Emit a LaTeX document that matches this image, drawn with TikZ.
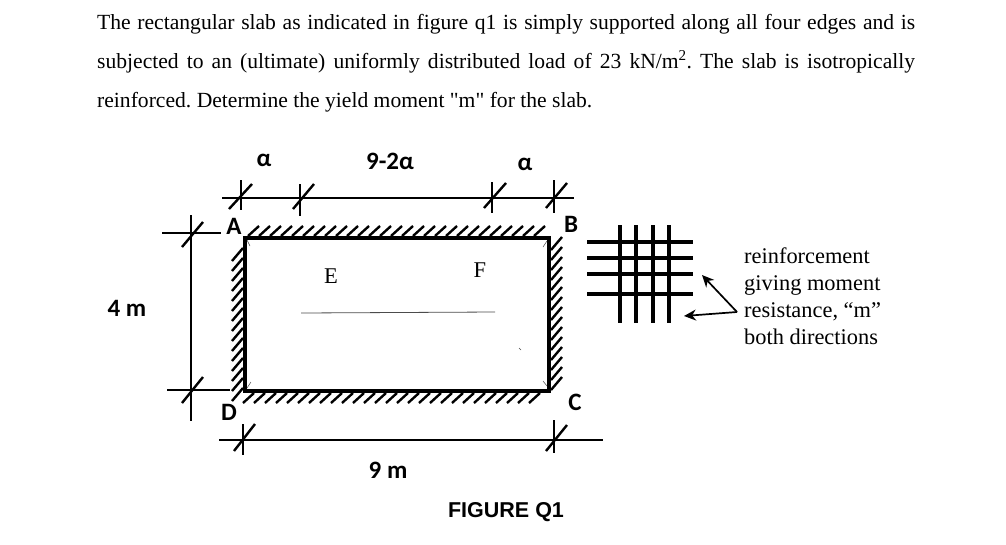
\documentclass[tikz,border=0pt]{standalone}
\usepackage{fontspec}
\setmainfont{Liberation Serif}
\newfontfamily\rawserif{Liberation Serif}
\newfontfamily\lblfont{Carlito}[BoldFont=Carlito Bold]
\newfontfamily\figfont{Liberation Sans}
\usetikzlibrary{arrows.meta}
\tikzset{
  dimline/.style={line width=1.4pt,black},
  slab/.style={line width=3.8pt,black,line cap=square},
  hatch/.style={line width=2.4pt,black},
  bar/.style={line width=4pt,black},
  lbl/.style={inner sep=0pt,font=\lblfont\bfseries\fontsize{25}{28}\selectfont},
  serif/.style={inner sep=0pt,font=\fontsize{22.5}{26}\selectfont},
  note/.style={inner sep=0pt,anchor=base west,font=\fontsize{22.4}{26}\selectfont},
  pointer/.style={line width=1.7pt,-{Stealth[length=12pt,width=11pt]}},
  speck/.style={line width=.5pt,black!70},
}
\begin{document}
\begin{tikzpicture}[x=1pt,y=-1pt]
\useasboundingbox (0,0) rectangle (1006,544);
\fill[white] (0,0) rectangle (1006,544);

% paragraph
\node[anchor=north west,inner sep=0pt] (para) at (97,14) {\parbox[t]{818pt}{\frenchspacing\fontsize{21.6}{39}\selectfont
The rectangular slab as indicated in figure q1 is simply supported along all four edges and is\linebreak
subjected to an (ultimate) uniformly distributed load of 23 kN/m\textsuperscript{2}. The slab is isotropically\linebreak
reinforced. Determine the yield moment {\rawserif"m"} for the slab.}};

% slab
\coordinate (A) at (245,238);
\coordinate (B) at (549,238);
\coordinate (C) at (549,391);
\coordinate (Dd) at (245,391);
\draw[slab] (A) -- (B) -- (C) -- (Dd) -- cycle;

% hatching
\foreach \x in {248,259,...,540} \draw[hatch] (\x,236) -- ++(11,-10);
\foreach \y in {248,258,...,392} \draw[hatch] (243,\y) -- ++(-11,13);
\foreach \x in {243,254,...,535} \draw[hatch] (\x,403) -- ++(11,-10);
\foreach \y in {237,247,...,381} \draw[hatch] (551,\y+13) -- ++(11,-13);

% corner specks and middle line
\coordinate (ml) at (301,313);
\coordinate (mr) at (495,312);
\draw[line width=.8pt,black!70] (ml) -- (mr);
\draw[speck] (247,240) -- (250,246);
\draw[speck] (547,241) -- (543,247);
\draw[speck] (247,388) -- (251,382);
\draw[speck] (547,386) -- (543,381);
\draw[speck] (519,348) -- (521,350);

% top dimension
\coordinate (t0) at (222,198); \coordinate (t1) at (574,198);
\draw[dimline] (t0) -- (t1);
\draw[dimline] (241,180) -- (241,210);
\draw[dimline] (300,184) -- (300,216);
\draw[dimline] (492,182) -- (492,213);
\draw[dimline] (554,180) -- (554,213);
\draw[hatch] (229,209) -- (252,184);
\draw[hatch] (293,209) -- (314,184);
\draw[hatch] (484,208) -- (506,183);
\draw[hatch] (546,208) -- (567,183);

% left dimension
\draw[dimline] (191,215) -- (191,421);
\draw[dimline] (162,233) -- (221,233);
\draw[dimline] (167,390) -- (230,390);
\draw[hatch] (182,247) -- (203,222);
\draw[hatch] (182,403) -- (203,377);

% bottom dimension
\draw[dimline] (219,440) -- (603,440);
\draw[dimline] (243,424) -- (243,455);
\draw[dimline] (554,420) -- (554,453);
\draw[hatch] (234,451) -- (255,424);
\draw[hatch] (546,451) -- (567,425);

% reinforcement grid
\foreach \y in {242,258,274,294} \draw[bar] (587,\y) -- (693,\y);
\foreach \x in {620,636,652.5,669} \draw[bar] (\x,225) -- (\x,323);

% labels
\node[lbl] (la1) at (264,160) {α};
\node[lbl] (l92) at (390,161) {9-2α};
\node[lbl] (la2) at (525,164) {α};
\node[lbl] (nA) at (234,226) {A};
\node[lbl] (nB) at (571,224) {B};
\node[lbl] (nC) at (575,402) {C};
\node[lbl] (nD) at (229,412) {D};
\node[lbl] (l4) at (127,308) {4 m};
\node[lbl] (l9) at (388,470) {9 m};
\node[serif] (E) at (331,276) {E};
\node[serif] (F) at (480,270) {F};
\node[inner sep=0pt,font=\figfont\bfseries\fontsize{21.5}{24}\selectfont] (fig) at (506,512) {FIGURE Q1};

% note
\node[note] (n1) at (744,263) {reinforcement};
\node[note] (n2) at (744,290) {giving moment};
\node[note] (n3) at (744,317) {resistance, “m”};
\node[note] (n4) at (744,344) {both directions};

% pointers
\coordinate (p1) at (702,275);
\coordinate (p2) at (684,316);
\draw[pointer] (n3.base west) ++(-7,-5) coordinate (s) -- (p1);
\draw[pointer] (s) -- (p2);
\end{tikzpicture}
\end{document}
